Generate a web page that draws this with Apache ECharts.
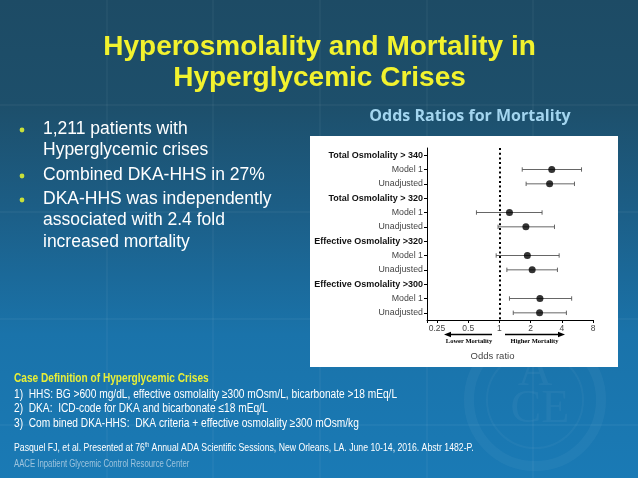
<!DOCTYPE html>
<html>
<head>
<meta charset="utf-8">
<script src="https://cdn.jsdelivr.net/npm/echarts@6/dist/echarts.min.js"></script>
<style>
html,body{margin:0;padding:0;background:#1d4e69;}
#chart{width:638px;height:478px;}
</style>
</head>
<body>
<div id="chart"></div>
<script>
// ---- data ----
const rowLabels = ['Total Osmolality > 340','Model 1','Unadjusted','Total Osmolality > 320','Model 1','Unadjusted','Effective Osmolality >320','Model 1','Unadjusted','Effective Osmolality >300','Model 1','Unadjusted'];
const headerRows = [0, 3, 6, 9];
const oddsRatio = [null, 3.2, 3.05, null, 1.25, 1.8, null, 1.86, 2.07, null, 2.46, 2.44];
const ciLower   = [null, 1.66, 1.81, null, 0.60, 0.97, null, 0.93, 1.18, null, 1.25, 1.36];
const ciUpper   = [null, 6.2, 5.3, null, 2.58, 3.4, null, 3.77, 3.63, null, 4.98, 4.43];
const xTickLabels = [0.25, 0.5, 1, 2, 4, 8];
const referenceOR = 1;

const titleLines = ['Hyperosmolality and Mortality in', 'Hyperglycemic Crises'];
const bulletLines = [
  ['1,211 patients with', 'Hyperglycemic crises'],
  ['Combined DKA-HHS in 27%'],
  ['DKA-HHS was independently', 'associated with 2.4 fold', 'increased mortality']
];
const caseDefs = [
  '1)  HHS: BG >600 mg/dL, effective osmolality \u2265300 mOsm/L, bicarbonate >18 mEq/L',
  '2)  DKA:  ICD-code for DKA and bicarbonate \u226418 mEq/L',
  '3)  Com bined DKA-HHS:  DKA criteria + effective osmolality \u2265300 mOsm/kg'
];

// ---- build ----
const pointData = [];
const ciData = [];
oddsRatio.forEach((v, i) => {
  if (v != null) {
    pointData.push([v, i]);
    ciData.push([ciLower[i], ciUpper[i], i]);
  }
});

const chart = echarts.init(document.getElementById('chart'), null, {renderer: 'canvas'});
const SANS = '"Liberation Sans", Arial, sans-serif';

const graphics = [];
// background grid lines of slide template
[107, 213, 320, 427, 533].forEach(x => graphics.push({type:'line', z:-90, silent:true, shape:{x1:x,y1:0,x2:x,y2:478}, style:{stroke:'rgba(255,255,255,0.07)', lineWidth:1}}));
[105, 212, 319, 425].forEach(y => graphics.push({type:'line', z:-90, silent:true, shape:{x1:0,y1:y,x2:638,y2:y}, style:{stroke:'rgba(255,255,255,0.08)', lineWidth:1}}));
// watermark seal
graphics.push({type:'circle', z:-89, silent:true, shape:{cx:535, cy:400, r:66}, style:{fill:'none', stroke:'rgba(255,255,255,0.04)', lineWidth:10}});
graphics.push({type:'circle', z:-89, silent:true, shape:{cx:535, cy:400, r:48}, style:{fill:'none', stroke:'rgba(255,255,255,0.035)', lineWidth:2}});
graphics.push({type:'text', z:-89, silent:true, style:{text:'A', x:535, y:372, font:'48px "Liberation Serif"', fill:'rgba(255,255,255,0.045)', align:'center', verticalAlign:'middle', textAlign:'center', textVerticalAlign:'middle'}});
graphics.push({type:'text', z:-89, silent:true, style:{text:'CE', x:540, y:410, font:'46px "Liberation Serif"', fill:'rgba(255,255,255,0.045)', align:'center', verticalAlign:'middle', textAlign:'center', textVerticalAlign:'middle'}});

// white panel
graphics.push({type:'rect', z:-50, silent:true, shape:{x:310, y:136, width:308, height:231}, style:{fill:'#ffffff'}});

function txt(text, x, y, font, fill, align, extra) {
  return Object.assign({type:'text', z:50, silent:true, style:{text, x, y, font, fill, align:align||'left', verticalAlign:'middle', textAlign:align||'left', textVerticalAlign:'middle'}}, extra||{});
}
// condensed text: element positioned at (x,y) and squeezed horizontally
function ntxt(text, x, y, font, fill, sx, rich) {
  const st = {text, x:0, y:0, font, fill, align:'left', verticalAlign:'middle', textAlign:'left', textVerticalAlign:'middle'};
  if (rich) st.rich = rich;
  return {type:'text', z:50, silent:true, x, y, scaleX:sx, scaleY:1, style:st};
}
// title
titleLines.forEach((t, i) => graphics.push(txt(t, 319.5, 47 + i*31, 'bold 28px ' + SANS, '#f2f22e', 'center')));
// subtitle
graphics.push(txt('Odds Ratios for Mortality', 470, 116, 'bold 16px "Open Sans", sans-serif', '#a3d5ef', 'center'));
// bullets
const bulletYs = [[129, 150.5], [175], [199, 220.5, 242]];
bulletLines.forEach((lines, bi) => {
  graphics.push({type:'circle', z:50, silent:true, shape:{cx:22, cy:bulletYs[bi][0]+1, r:2.4}, style:{fill:'#c9e03a'}});
  lines.forEach((l, li) => graphics.push(txt(l, 43, bulletYs[bi][li], '17.5px ' + SANS, '#ffffff')));
});
// case definitions
graphics.push(ntxt('Case Definition of Hyperglycemic Crises', 14, 379, 'bold 12.5px ' + SANS, '#e8ef38', 0.81));
caseDefs.forEach((l, i) => graphics.push(ntxt(l, 14, 394.5 + i*14.5, '12.5px ' + SANS, '#ffffff', 0.815)));
// citation with superscript
graphics.push(ntxt('Pasquel FJ, et al. Presented at 76{sup|th} Annual ADA Scientific Sessions, New Orleans, LA. June 10-14, 2016. Abstr 1482-P.',
  14, 448, '11px ' + SANS, '#ffffff', 0.79,
  {sup:{fontSize:6.5, fill:'#ffffff', fontFamily:'Liberation Sans', padding:[0,0,5,0]}}));
graphics.push(ntxt('AACE Inpatient Glycemic Control Resource Center', 14, 464.5, '10.5px ' + SANS, 'rgba(200,220,235,0.75)', 0.74));

// forest plot annotations
graphics.push({type:'line', z:50, silent:true, shape:{x1:449, y1:334.5, x2:492, y2:334.5}, style:{stroke:'#000', lineWidth:1.3}});
graphics.push({type:'polygon', z:50, silent:true, shape:{points:[[444,334.5],[451,331.8],[451,337.2]]}, style:{fill:'#000'}});
graphics.push({type:'line', z:50, silent:true, shape:{x1:505, y1:334.5, x2:560, y2:334.5}, style:{stroke:'#000', lineWidth:1.3}});
graphics.push({type:'polygon', z:50, silent:true, shape:{points:[[565,334.5],[558,331.8],[558,337.2]]}, style:{fill:'#000'}});
graphics.push(txt('Lower Mortality', 469, 341, 'bold 6.5px "Liberation Serif", serif', '#000', 'center'));
graphics.push(txt('Higher Mortality', 534.5, 341, 'bold 6.5px "Liberation Serif", serif', '#000', 'center'));
graphics.push(txt('Odds ratio', 492.5, 356, '9.5px ' + SANS, '#444', 'center'));

const option = {
  backgroundColor: {
    type:'linear', x:0, y:0, x2:0, y2:1,
    colorStops:[
      {offset:0, color:'#1d4b65'},
      {offset:0.22, color:'#1d4f6b'},
      {offset:0.45, color:'#1c5f88'},
      {offset:0.7, color:'#1a73aa'},
      {offset:1, color:'#1a7ab5'}
    ]
  },
  animation: false,
  graphic: graphics,
  grid: {left:427, right:45, top:148, bottom:158, containLabel:false},
  xAxis: {
    type:'log', logBase:2, min:0.2, max:8,
    axisLine:{show:true, lineStyle:{color:'#000', width:1}},
    axisTick:{show:true, length:3, lineStyle:{color:'#000'}},
    splitLine:{show:false},
    axisLabel:{
      margin:4, fontSize:8.5, color:'#444', fontFamily:SANS,
      showMinLabel:true, showMaxLabel:true,
      formatter: v => {
        const m = xTickLabels.find(t => Math.abs(t - v) < 1e-6);
        return m != null ? String(m) : '';
      }
    }
  },
  yAxis: {
    type:'category', inverse:true, data: rowLabels,
    axisLine:{show:true, lineStyle:{color:'#000', width:1}},
    axisTick:{show:true, alignWithLabel:true, length:3, lineStyle:{color:'#000'}},
    axisLabel:{
      margin:4, interval:0,
      formatter:(v, i) => headerRows.indexOf(i) >= 0 ? '{h|' + v + '}' : '{n|' + v + '}',
      rich:{
        h:{fontSize:9, fontWeight:'bold', color:'#111', fontFamily:SANS},
        n:{fontSize:8.8, color:'#444', fontFamily:SANS}
      }
    },
    splitLine:{show:false}
  },
  series: [
    {
      type:'custom', name:'CI',
      data: ciData,
      encode:{x:[0,1], y:2},
      renderItem:(params, api) => {
        const idx = api.value(2);
        const p1 = api.coord([api.value(0), idx]);
        const p2 = api.coord([api.value(1), idx]);
        const st = {stroke:'#555', lineWidth:0.9};
        return {type:'group', children:[
          {type:'line', shape:{x1:p1[0], y1:p1[1], x2:p2[0], y2:p2[1]}, style:st},
          {type:'line', shape:{x1:p1[0], y1:p1[1]-2.2, x2:p1[0], y2:p1[1]+2.2}, style:st},
          {type:'line', shape:{x1:p2[0], y1:p2[1]-2.2, x2:p2[0], y2:p2[1]+2.2}, style:st}
        ]};
      },
      z:3
    },
    {
      type:'scatter', name:'OR',
      data: pointData,
      symbol:'circle', symbolSize:7,
      itemStyle:{color:'#000'},
      z:4,
      markLine:{
        silent:true, symbol:['none','none'], label:{show:false},
        lineStyle:{color:'#000', width:2, type:[2,2.7], cap:'butt'},
        data:[{xAxis: referenceOR}]
      }
    }
  ]
};
chart.setOption(option);
</script>
</body>
</html>
